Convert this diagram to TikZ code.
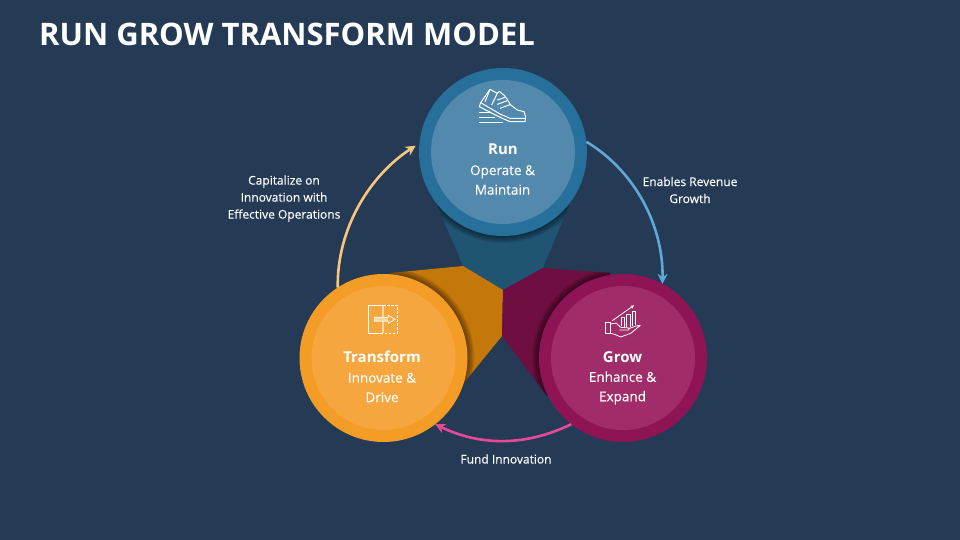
\documentclass[tikz,border=0pt]{standalone}
\usepackage{fontspec}
\setmainfont{Open Sans}
\newfontfamily\medfont[FakeBold=0.25]{Open Sans}
\usetikzlibrary{arrows.meta}
\definecolor{bgc}{RGB}{36,58,85}
\definecolor{runO}{RGB}{39,112,155}
\definecolor{runI}{RGB}{82,137,173}
\definecolor{runP}{RGB}{31,84,115}
\definecolor{traO}{RGB}{243,156,38}
\definecolor{traI}{RGB}{245,166,62}
\definecolor{traP}{RGB}{197,120,10}
\definecolor{traL}{RGB}{250,215,165}
\definecolor{groO}{RGB}{143,20,86}
\definecolor{groI}{RGB}{160,45,105}
\definecolor{groP}{RGB}{111,14,65}
\definecolor{arO}{RGB}{247,199,127}
\definecolor{arB}{RGB}{96,168,213}
\definecolor{arP}{RGB}{232,72,154}
\tikzset{
  outerdisc/.style={circle,minimum size=168pt,inner sep=0pt,outer sep=0pt},
  innerdisc/.style={circle,minimum size=144pt,inner sep=0pt,outer sep=0pt},
  headtxt/.style={text=white,font=\bfseries\fontsize{15}{18}\selectfont,inner sep=0pt,anchor=center},
  subtxt/.style={text=white,font=\medfont\fontsize{13.5}{19.5}\selectfont,align=center,inner sep=0pt,anchor=center},
  lbltxt/.style={text=white,font=\medfont\fontsize{12}{17}\selectfont,align=center,inner sep=0pt,anchor=center},
  flow/.style={line width=2.6pt,-{Stealth[length=10pt,width=10pt]}},
  ico/.style={draw=white,line width=1pt,line join=round},
  icol/.style={draw=traL,line width=2pt}
}
\newcommand{\softshadow}[2]{%
  \foreach \r in {91,90,89,88,87,86,85}{\fill[black,opacity=.075] (#1,#2) circle[radius=\r pt];}}
\newcommand{\runpoly}{(437,205) -- (463,266) -- (503,290) -- (543,268) -- (569,205) -- cycle}
\newcommand{\trapoly}{(390,273) -- (463,266) -- (503,290) -- (502,336) -- (463,384) -- (420,384) -- cycle}
\newcommand{\gropoly}{(610,273) -- (543,268) -- (503,290) -- (502,336) -- (547,396) -- (590,396) -- cycle}
\begin{document}
\begin{tikzpicture}[x=1pt,y=-1pt]
\useasboundingbox (0,0) rectangle (960,540);
\fill[bgc] (0,0) rectangle (960,540);
\node[text=white,font=\bfseries\fontsize{31}{36}\selectfont,anchor=west,inner sep=0pt] (title) at (39,34) {RUN GROW TRANSFORM MODEL};
% funnels
\fill[runP] \runpoly;
\fill[traP] \trapoly;
\fill[groP] \gropoly;
% soft shadows, limited to the funnels
\begin{scope}
\clip \runpoly;
\softshadow{503}{152}
\end{scope}
\begin{scope}
\clip \trapoly;
\softshadow{383.5}{358}
\end{scope}
\begin{scope}
\clip \gropoly;
\softshadow{623}{358}
\end{scope}
% discs
\node[outerdisc,fill=runO] (run) at (503,152) {};
\node[innerdisc,fill=runI] (runin) at (503,152) {};
\node[outerdisc,fill=traO] (transform) at (383.5,358) {};
\node[innerdisc,fill=traI] (transformin) at (383.5,358) {};
\node[outerdisc,fill=groO] (grow) at (623,358) {};
\node[innerdisc,fill=groI] (growin) at (623,358) {};
% connectors
\draw[flow,arB] (run.7.5) to[out=-31,in=89,looseness=.91] (grow.62);
\draw[flow,arP] (grow.232) to[out=-154,in=-26,looseness=.95] (transform.-52);
\draw[flow,arO,shorten >=4.5pt] (transform.123) to[out=91,in=-147,looseness=.91] (run.174);
% texts
\node[headtxt] (t1) at (503,149) {Run};
\node[subtxt] (t2) at (502.5,180) {Operate \&\\Maintain};
\node[headtxt] (t3) at (382,357) {Transform};
\node[subtxt] (t4) at (382,387.5) {Innovate \&\\Drive};
\node[headtxt] (t5) at (622.5,357) {Grow};
\node[subtxt] (t6) at (622.5,388) {Enhance \&\\Expand};
\node[lbltxt] (l1) at (284,198.5) {Capitalize on\\Innovation with\\Effective Operations};
\node[lbltxt] (l2) at (690,190) {Enables Revenue\\Growth};
\node[lbltxt] (l3) at (506,459) {Fund Innovation};
% shoe icon
\begin{scope}[shift={(410,60)},x=.3333pt,y=-.3333pt]
\draw[ico] (240,88) -- (262,100) -- (268,94) -- (285,108) -- (302,135) -- (322,150) -- (342,155) -- (347,170) -- (345,185) -- (300,185) -- (270,172) -- (208,140) -- (212,128) -- cycle;
\draw[ico] (212,128) -- (270,162) -- (300,175) -- (346,175);
\draw[ico] (240,88) -- (225,125);
\draw[ico] (262,100) -- (245,135);
\draw[ico] (262,120) -- (285,112);
\draw[ico] (262,133) -- (292,122);
\draw[ico] (270,145) -- (300,134);
\draw[ico] (208,158) -- (240,158);
\draw[ico] (208,172) -- (255,172);
\draw[ico] (208,187) -- (280,187);
\end{scope}
% split icon
\begin{scope}[shift={(340,280)},x=.3333pt,y=-.3333pt]
\draw[icol] (130,76) -- (130,160);
\draw[white,line width=1pt] (130,76) -- (85,76) -- (85,160) -- (130,160);
\draw[white,line width=1pt,dash pattern=on 2.5pt off 1.5pt] (130,76) -- (172,76) -- (172,160) -- (130,160);
\fill[traL] (103,112) rectangle (145,124);
\draw[white,line width=.8pt] (103,112) -- (145,112) -- (145,106) -- (165,118) -- (145,130) -- (145,124) -- (103,124) -- cycle;
\end{scope}
% growth icon
\begin{scope}[shift={(580,290)},x=.3333pt,y=-.3333pt]
\draw[ico,line width=.8pt] (77,97) rectangle (92,130);
\draw[ico,line width=.8pt] (92,102) -- (108,99) -- (122,112) -- (148,114) -- (146,120) -- (118,120);
\draw[ico,line width=.8pt] (146,116) -- (168,108) -- (181,106) -- (152,130) -- (122,141) -- (104,133) -- (92,130);
\draw[ico,line width=.8pt] (124,108) -- (124,83) -- (133,83) -- (133,112);
\draw[ico,line width=.8pt] (140,112) -- (140,73) -- (150,73) -- (150,112);
\draw[ico,line width=.8pt] (156,108) -- (156,63) -- (166,63) -- (166,106);
\draw[white,line width=.8pt,-{Stealth[length=3.5pt,width=3.5pt]}] (97,92) -- (162,46);
\end{scope}
\end{tikzpicture}
\end{document}
